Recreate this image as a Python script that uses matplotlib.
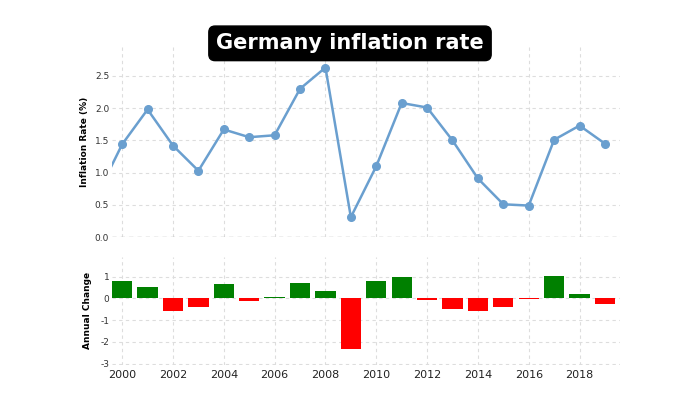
import matplotlib.pyplot as plt

plt.rcParams['axes.unicode_minus'] = False

years = list(range(1999, 2020))
inflation = [0.64, 1.44, 1.98, 1.42, 1.03, 1.67, 1.55, 1.58, 2.30, 2.63, 0.31,
             1.10, 2.08, 2.01, 1.50, 0.91, 0.51, 0.49, 1.51, 1.73, 1.45]
change_years = list(range(2000, 2020))
annual_change = [0.80, 0.54, -0.56, -0.39, 0.64, -0.12, 0.05, 0.72, 0.33, -2.32,
                 0.79, 0.98, -0.07, -0.51, -0.59, -0.40, -0.03, 1.02, 0.22, -0.28]
x_ticks = list(range(2000, 2019, 2))

fig = plt.figure(figsize=(7, 3.94), dpi=100)
ax1 = fig.add_axes([0.16, 0.398, 0.726, 0.483])
ax2 = fig.add_axes([0.16, 0.074, 0.726, 0.274])

grid_kw = dict(color='#dddddd', linestyle=(0, (3, 3)), linewidth=0.8)

# inflation line
ax1.plot(years, inflation, color='#6a9fcf', linewidth=1.8, marker='o', markersize=5.5)
ax1.set_xlim(1999.6, 2019.6)
ax1.set_ylim(0, 2.95)
ax1.set_yticks([0, 0.5, 1.0, 1.5, 2.0, 2.5])
ax1.set_yticklabels(['0.0', '0.5', '1.0', '1.5', '2.0', '2.5'])
ax1.set_xticks(x_ticks)
ax1.tick_params(axis='x', labelbottom=False, length=0)
ax1.tick_params(axis='y', length=0, labelsize=6.5, labelcolor='#333333', pad=2)
ax1.grid(True, **grid_kw)
ax1.axhline(0, color='#b5b5b5', linestyle=(0, (3, 3)), linewidth=1.0)
ax1.set_ylabel('Inflation Rate (%)', fontsize=6.5, fontweight='bold', labelpad=4)
for s in ax1.spines.values():
    s.set_visible(False)

# annual change bars
colors = ['#008000' if v >= 0 else '#ff0000' for v in annual_change]
ax2.bar(change_years, annual_change, width=0.8, color=colors)
ax2.set_xlim(1999.6, 2019.6)
ax2.set_ylim(-3.05, 1.9)
ax2.set_yticks([-3, -2, -1, 0, 1])
ax2.set_xticks(x_ticks)
ax2.tick_params(axis='x', length=0, labelsize=8, labelcolor='#222222', pad=4)
ax2.tick_params(axis='y', length=0, labelsize=6.5, labelcolor='#333333', pad=2)
ax2.grid(True, **grid_kw)
ax2.set_axisbelow(True)
ax2.set_ylabel('Annual Change', fontsize=6.5, fontweight='bold', labelpad=6)
for s in ax2.spines.values():
    s.set_visible(False)

fig.text(0.5, 0.89, 'Germany inflation rate', ha='center', va='center',
         fontsize=15, fontweight='bold', color='white',
         bbox=dict(boxstyle='round,pad=0.35,rounding_size=0.3', facecolor='black', edgecolor='black'))

fig.savefig('out.png', dpi=100)
